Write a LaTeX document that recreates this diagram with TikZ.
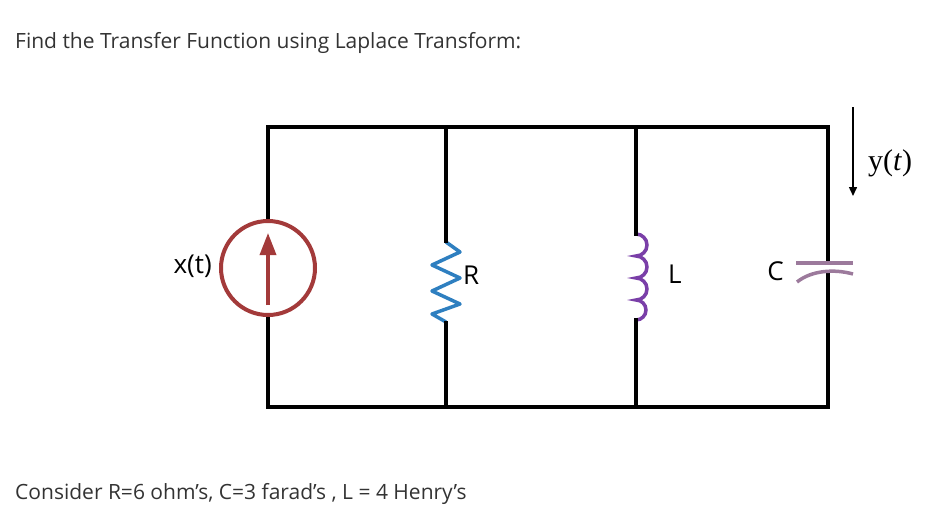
\documentclass[tikz,border=0pt]{standalone}
\usepackage{fontspec}
\setmainfont{Open Sans}
\newfontfamily\serifx{Liberation Serif}
\usetikzlibrary{arrows.meta,decorations.pathmorphing}
\definecolor{srcred}{HTML}{A33A3A}
\definecolor{resblue}{HTML}{2E7FC0}
\definecolor{indpur}{HTML}{7A3FA8}
\definecolor{cappur}{HTML}{9C7A9C}
\definecolor{txt}{HTML}{333333}
\tikzset{wire/.style={line width=4pt,black},
lbl/.style={font=\fontsize{21}{24}\selectfont,text=txt,inner sep=0pt},
clbl/.style={font=\fontsize{26}{28}\selectfont,text=black,inner sep=0pt}}
\begin{document}
\begin{tikzpicture}[x=1pt,y=-1pt]
\useasboundingbox (0,0) rectangle (934,512);
\node[lbl,anchor=west] (title) at (15,43) {Find the Transfer Function using Laplace Transform:};
\node[lbl,anchor=west] (cons) at (15,494) {Consider R=6 ohm’s, C=3 farad’s , L = 4 Henry’s};
% wires
\coordinate (tl) at (268,127); \coordinate (tr) at (828,127);
\coordinate (bl) at (268,407); \coordinate (br) at (828,407);
\coordinate (rt) at (446,127); \coordinate (rb) at (446,407);
\coordinate (lt) at (636,127); \coordinate (lb) at (636,407);
\draw[wire] (bl) -- (tl) -- (tr) -- (br) -- cycle;
\draw[wire] (rt) -- (rb); \draw[wire] (lt) -- (lb);
% source
\node[circle,draw=srcred,line width=4pt,fill=white,minimum size=94pt,inner sep=0pt] (src) at (268,268) {};
\draw[srcred,line width=3.5pt,-{Triangle[length=22pt,width=16pt]}] (268,305) -- (268,233);
\node[clbl,anchor=east] (xt) at (212,266) {x(t)};
% resistor
\fill[white] (428,240) rectangle (464,324);
\draw[resblue,line width=3.5pt,line join=round] (446,242) -- (460,252) -- (432,265) -- (460,278) -- (432,291) -- (460,304) -- (432,314) -- (446,322);
\draw[wire] (446,238) -- (446,243); \draw[wire] (446,321) -- (446,326);
\node[clbl,anchor=west] (rl) at (463,275) {R};
% inductor
\fill[white] (626,236) rectangle (664,318);
\draw[indpur,line width=3.5pt] (636,234) arc[start angle=-90,end angle=90,radius=11] arc[start angle=-90,end angle=90,radius=11] arc[start angle=-90,end angle=90,radius=11] arc[start angle=-90,end angle=90,radius=10];
\draw[wire] (636,232) -- (636,236); \draw[wire] (636,318) -- (636,322);
\node[clbl,anchor=west] (ll) at (668,274) {L};
% capacitor
\fill[white] (820,264) rectangle (836,272);
\draw[cappur,line width=3.5pt] (796,263) -- (853,263);
\draw[cappur,line width=3.5pt] (797,282) .. controls (812,270) and (835,269) .. (853,274);
\node[clbl,anchor=east] (cl) at (784,271) {C};
% output arrow
\coordinate (ya) at (853,107); \coordinate (yb) at (853,196);
\draw[line width=1.5pt,-{Triangle[length=9pt,width=8pt]}] (ya) -- (yb);
\node[anchor=west,inner sep=0pt,font=\serifx\fontsize{30}{32}\selectfont] (yt) at (868,163) {y(\textit{t})};
\end{tikzpicture}
\end{document}
